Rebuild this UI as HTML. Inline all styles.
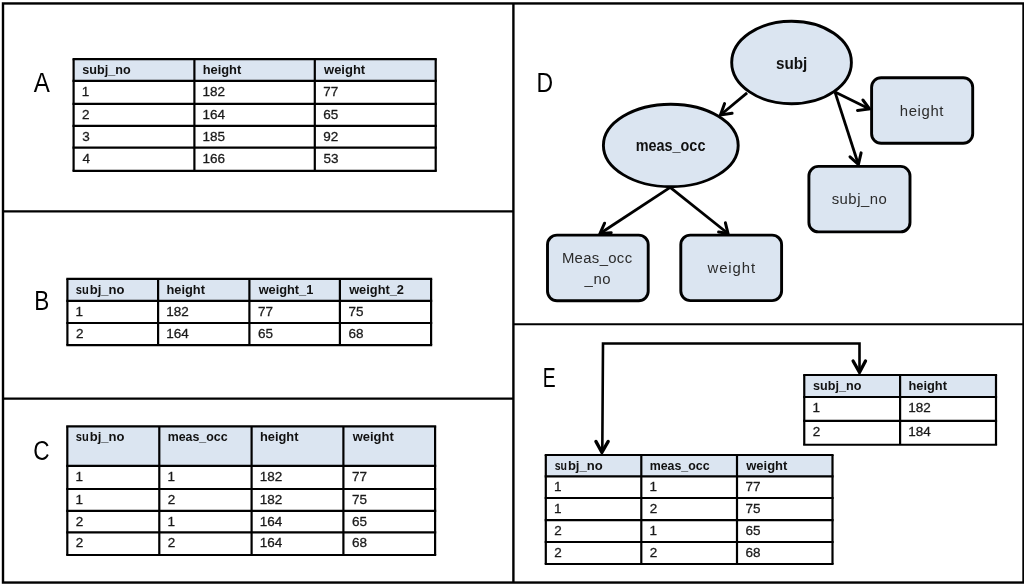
<!DOCTYPE html>
<html><head><meta charset="utf-8"><title>Data structures A-E</title>
<style>
html,body{margin:0;padding:0;background:#fff;}
body{width:1024px;height:588px;overflow:hidden;}
svg{display:block;will-change:transform;font-family:"Liberation Sans",Arial,sans-serif;}
</style></head>
<body>
<svg width="1024" height="588" viewBox="0 0 1024 588">
<rect width="1024" height="588" fill="#fff"/>
<rect x="3" y="3.45" width="1020.5" height="579.1" fill="none" stroke="#000" stroke-width="2.4"/>
<line x1="513.4" y1="3.45" x2="513.4" y2="582.5" stroke="#000" stroke-width="2.4"/>
<line x1="3" y1="211.3" x2="513.4" y2="211.3" stroke="#000" stroke-width="2.3"/>
<line x1="3" y1="398.7" x2="513.4" y2="398.7" stroke="#000" stroke-width="2.3"/>
<line x1="513.4" y1="324.3" x2="1023.5" y2="324.3" stroke="#000" stroke-width="2.0"/>
<text x="33.85" y="92.10" font-size="27" fill="#000" textLength="16.09" lengthAdjust="spacingAndGlyphs">A</text>
<text x="34.15" y="310.20" font-size="27" fill="#000" textLength="15.04" lengthAdjust="spacingAndGlyphs">B</text>
<text x="33.15" y="459.90" font-size="27" fill="#000" textLength="16.31" lengthAdjust="spacingAndGlyphs">C</text>
<text x="536.42" y="91.80" font-size="27" fill="#000" textLength="16.58" lengthAdjust="spacingAndGlyphs">D</text>
<text x="542.81" y="386.70" font-size="27" fill="#000" textLength="12.92" lengthAdjust="spacingAndGlyphs">E</text>
<rect x="73.6" y="59.2" width="362.1" height="21.599999999999994" fill="#dbe5f1"/>
<text x="82.36" y="73.80" font-size="13.7" font-weight="bold" fill="#111" textLength="48.34" lengthAdjust="spacingAndGlyphs">subj_no</text>
<text x="202.70" y="73.80" font-size="13.7" font-weight="bold" fill="#111" textLength="38.55" lengthAdjust="spacingAndGlyphs">height</text>
<text x="324.04" y="73.80" font-size="13.7" font-weight="bold" fill="#111" textLength="41.12" lengthAdjust="spacingAndGlyphs">weight</text>
<text x="81.77" y="95.80" font-size="13.5" fill="#1a1a1a" stroke="#1a1a1a" stroke-width="0.3">1</text>
<text x="202.57" y="95.80" font-size="13.5" fill="#1a1a1a" stroke="#1a1a1a" stroke-width="0.3">182</text>
<text x="323.31" y="95.80" font-size="13.5" fill="#1a1a1a" stroke="#1a1a1a" stroke-width="0.3">77</text>
<text x="82.12" y="118.90" font-size="13.5" fill="#1a1a1a" stroke="#1a1a1a" stroke-width="0.3">2</text>
<text x="202.57" y="118.90" font-size="13.5" fill="#1a1a1a" stroke="#1a1a1a" stroke-width="0.3">164</text>
<text x="323.31" y="118.90" font-size="13.5" fill="#1a1a1a" stroke="#1a1a1a" stroke-width="0.3">65</text>
<text x="82.29" y="140.80" font-size="13.5" fill="#1a1a1a" stroke="#1a1a1a" stroke-width="0.3">3</text>
<text x="202.57" y="140.80" font-size="13.5" fill="#1a1a1a" stroke="#1a1a1a" stroke-width="0.3">185</text>
<text x="323.37" y="140.80" font-size="13.5" fill="#1a1a1a" stroke="#1a1a1a" stroke-width="0.3">92</text>
<text x="82.49" y="162.60" font-size="13.5" fill="#1a1a1a" stroke="#1a1a1a" stroke-width="0.3">4</text>
<text x="202.57" y="162.60" font-size="13.5" fill="#1a1a1a" stroke="#1a1a1a" stroke-width="0.3">166</text>
<text x="323.46" y="162.60" font-size="13.5" fill="#1a1a1a" stroke="#1a1a1a" stroke-width="0.3">53</text>
<line x1="72.5" y1="59.2" x2="436.8" y2="59.2" stroke="#000" stroke-width="2.2"/>
<line x1="72.5" y1="80.8" x2="436.8" y2="80.8" stroke="#000" stroke-width="2.2"/>
<line x1="72.5" y1="103.9" x2="436.8" y2="103.9" stroke="#000" stroke-width="2.2"/>
<line x1="72.5" y1="125.8" x2="436.8" y2="125.8" stroke="#000" stroke-width="2.2"/>
<line x1="72.5" y1="147.6" x2="436.8" y2="147.6" stroke="#000" stroke-width="2.2"/>
<line x1="72.5" y1="170.8" x2="436.8" y2="170.8" stroke="#000" stroke-width="2.2"/>
<line x1="73.6" y1="59.2" x2="73.6" y2="170.8" stroke="#000" stroke-width="2.2"/>
<line x1="194.4" y1="59.2" x2="194.4" y2="170.8" stroke="#000" stroke-width="2.2"/>
<line x1="314.8" y1="59.2" x2="314.8" y2="170.8" stroke="#000" stroke-width="2.2"/>
<line x1="435.7" y1="59.2" x2="435.7" y2="170.8" stroke="#000" stroke-width="2.2"/>
<rect x="67.4" y="278.9" width="363.70000000000005" height="22.0" fill="#dbe5f1"/>
<text x="75.86" y="293.50" font-size="13.7" font-weight="bold" fill="#111" textLength="12.97" lengthAdjust="spacingAndGlyphs">su</text>
<text x="89.74" y="293.50" font-size="13.7" font-weight="bold" fill="#111" textLength="34.77" lengthAdjust="spacingAndGlyphs">bj_no</text>
<text x="166.40" y="293.50" font-size="13.7" font-weight="bold" fill="#111" textLength="38.55" lengthAdjust="spacingAndGlyphs">height</text>
<text x="258.64" y="293.50" font-size="13.7" font-weight="bold" fill="#111" textLength="54.72" lengthAdjust="spacingAndGlyphs">weight_1</text>
<text x="349.14" y="293.50" font-size="13.7" font-weight="bold" fill="#111" textLength="54.88" lengthAdjust="spacingAndGlyphs">weight_2</text>
<text x="75.57" y="315.90" font-size="13.5" fill="#1a1a1a" stroke="#1a1a1a" stroke-width="0.3">1</text>
<text x="166.27" y="315.90" font-size="13.5" fill="#1a1a1a" stroke="#1a1a1a" stroke-width="0.3">182</text>
<text x="257.91" y="315.90" font-size="13.5" fill="#1a1a1a" stroke="#1a1a1a" stroke-width="0.3">77</text>
<text x="348.41" y="315.90" font-size="13.5" fill="#1a1a1a" stroke="#1a1a1a" stroke-width="0.3">75</text>
<text x="75.92" y="338.00" font-size="13.5" fill="#1a1a1a" stroke="#1a1a1a" stroke-width="0.3">2</text>
<text x="166.27" y="338.00" font-size="13.5" fill="#1a1a1a" stroke="#1a1a1a" stroke-width="0.3">164</text>
<text x="257.91" y="338.00" font-size="13.5" fill="#1a1a1a" stroke="#1a1a1a" stroke-width="0.3">65</text>
<text x="348.41" y="338.00" font-size="13.5" fill="#1a1a1a" stroke="#1a1a1a" stroke-width="0.3">68</text>
<line x1="66.30000000000001" y1="278.9" x2="432.20000000000005" y2="278.9" stroke="#000" stroke-width="2.2"/>
<line x1="66.30000000000001" y1="300.9" x2="432.20000000000005" y2="300.9" stroke="#000" stroke-width="2.2"/>
<line x1="66.30000000000001" y1="323.0" x2="432.20000000000005" y2="323.0" stroke="#000" stroke-width="2.2"/>
<line x1="66.30000000000001" y1="345.1" x2="432.20000000000005" y2="345.1" stroke="#000" stroke-width="2.2"/>
<line x1="67.4" y1="278.9" x2="67.4" y2="345.1" stroke="#000" stroke-width="2.2"/>
<line x1="158.1" y1="278.9" x2="158.1" y2="345.1" stroke="#000" stroke-width="2.2"/>
<line x1="249.4" y1="278.9" x2="249.4" y2="345.1" stroke="#000" stroke-width="2.2"/>
<line x1="339.9" y1="278.9" x2="339.9" y2="345.1" stroke="#000" stroke-width="2.2"/>
<line x1="431.1" y1="278.9" x2="431.1" y2="345.1" stroke="#000" stroke-width="2.2"/>
<rect x="67.3" y="426.4" width="367.8" height="39.400000000000034" fill="#dbe5f1"/>
<text x="75.86" y="441.00" font-size="13.7" font-weight="bold" fill="#111" textLength="12.97" lengthAdjust="spacingAndGlyphs">su</text>
<text x="89.74" y="441.00" font-size="13.7" font-weight="bold" fill="#111" textLength="34.77" lengthAdjust="spacingAndGlyphs">bj_no</text>
<text x="167.68" y="441.00" font-size="13.7" font-weight="bold" fill="#111" textLength="59.93" lengthAdjust="spacingAndGlyphs">meas_occ</text>
<text x="259.90" y="441.00" font-size="13.7" font-weight="bold" fill="#111" textLength="38.55" lengthAdjust="spacingAndGlyphs">height</text>
<text x="352.64" y="441.00" font-size="13.7" font-weight="bold" fill="#111" textLength="41.12" lengthAdjust="spacingAndGlyphs">weight</text>
<text x="75.47" y="480.80" font-size="13.5" fill="#1a1a1a" stroke="#1a1a1a" stroke-width="0.3">1</text>
<text x="167.47" y="480.80" font-size="13.5" fill="#1a1a1a" stroke="#1a1a1a" stroke-width="0.3">1</text>
<text x="259.77" y="480.80" font-size="13.5" fill="#1a1a1a" stroke="#1a1a1a" stroke-width="0.3">182</text>
<text x="351.91" y="480.80" font-size="13.5" fill="#1a1a1a" stroke="#1a1a1a" stroke-width="0.3">77</text>
<text x="75.47" y="504.00" font-size="13.5" fill="#1a1a1a" stroke="#1a1a1a" stroke-width="0.3">1</text>
<text x="167.82" y="504.00" font-size="13.5" fill="#1a1a1a" stroke="#1a1a1a" stroke-width="0.3">2</text>
<text x="259.77" y="504.00" font-size="13.5" fill="#1a1a1a" stroke="#1a1a1a" stroke-width="0.3">182</text>
<text x="351.91" y="504.00" font-size="13.5" fill="#1a1a1a" stroke="#1a1a1a" stroke-width="0.3">75</text>
<text x="75.82" y="525.80" font-size="13.5" fill="#1a1a1a" stroke="#1a1a1a" stroke-width="0.3">2</text>
<text x="167.47" y="525.80" font-size="13.5" fill="#1a1a1a" stroke="#1a1a1a" stroke-width="0.3">1</text>
<text x="259.77" y="525.80" font-size="13.5" fill="#1a1a1a" stroke="#1a1a1a" stroke-width="0.3">164</text>
<text x="351.91" y="525.80" font-size="13.5" fill="#1a1a1a" stroke="#1a1a1a" stroke-width="0.3">65</text>
<text x="75.82" y="547.40" font-size="13.5" fill="#1a1a1a" stroke="#1a1a1a" stroke-width="0.3">2</text>
<text x="167.82" y="547.40" font-size="13.5" fill="#1a1a1a" stroke="#1a1a1a" stroke-width="0.3">2</text>
<text x="259.77" y="547.40" font-size="13.5" fill="#1a1a1a" stroke="#1a1a1a" stroke-width="0.3">164</text>
<text x="351.91" y="547.40" font-size="13.5" fill="#1a1a1a" stroke="#1a1a1a" stroke-width="0.3">68</text>
<line x1="66.2" y1="426.4" x2="436.20000000000005" y2="426.4" stroke="#000" stroke-width="2.2"/>
<line x1="66.2" y1="465.8" x2="436.20000000000005" y2="465.8" stroke="#000" stroke-width="2.2"/>
<line x1="66.2" y1="489.0" x2="436.20000000000005" y2="489.0" stroke="#000" stroke-width="2.2"/>
<line x1="66.2" y1="510.8" x2="436.20000000000005" y2="510.8" stroke="#000" stroke-width="2.2"/>
<line x1="66.2" y1="532.4" x2="436.20000000000005" y2="532.4" stroke="#000" stroke-width="2.2"/>
<line x1="66.2" y1="555.0" x2="436.20000000000005" y2="555.0" stroke="#000" stroke-width="2.2"/>
<line x1="67.3" y1="426.4" x2="67.3" y2="555.0" stroke="#000" stroke-width="2.2"/>
<line x1="159.3" y1="426.4" x2="159.3" y2="555.0" stroke="#000" stroke-width="2.2"/>
<line x1="251.6" y1="426.4" x2="251.6" y2="555.0" stroke="#000" stroke-width="2.2"/>
<line x1="343.4" y1="426.4" x2="343.4" y2="555.0" stroke="#000" stroke-width="2.2"/>
<line x1="435.1" y1="426.4" x2="435.1" y2="555.0" stroke="#000" stroke-width="2.2"/>
<rect x="804.25" y="375.0" width="191.75" height="22.0" fill="#dbe5f1"/>
<text x="813.01" y="389.60" font-size="13.7" font-weight="bold" fill="#111" textLength="48.34" lengthAdjust="spacingAndGlyphs">subj_no</text>
<text x="908.40" y="389.60" font-size="13.7" font-weight="bold" fill="#111" textLength="38.55" lengthAdjust="spacingAndGlyphs">height</text>
<text x="812.42" y="412.00" font-size="13.5" fill="#1a1a1a" stroke="#1a1a1a" stroke-width="0.3">1</text>
<text x="908.27" y="412.00" font-size="13.5" fill="#1a1a1a" stroke="#1a1a1a" stroke-width="0.3">182</text>
<text x="812.77" y="435.90" font-size="13.5" fill="#1a1a1a" stroke="#1a1a1a" stroke-width="0.3">2</text>
<text x="908.27" y="435.90" font-size="13.5" fill="#1a1a1a" stroke="#1a1a1a" stroke-width="0.3">184</text>
<line x1="803.15" y1="375.0" x2="997.1" y2="375.0" stroke="#000" stroke-width="2.2"/>
<line x1="803.15" y1="397.0" x2="997.1" y2="397.0" stroke="#000" stroke-width="2.2"/>
<line x1="803.15" y1="420.9" x2="997.1" y2="420.9" stroke="#000" stroke-width="2.2"/>
<line x1="803.15" y1="444.75" x2="997.1" y2="444.75" stroke="#000" stroke-width="2.2"/>
<line x1="804.25" y1="375.0" x2="804.25" y2="444.75" stroke="#000" stroke-width="2.2"/>
<line x1="900.1" y1="375.0" x2="900.1" y2="444.75" stroke="#000" stroke-width="2.2"/>
<line x1="996.0" y1="375.0" x2="996.0" y2="444.75" stroke="#000" stroke-width="2.2"/>
<rect x="545.8" y="455.0" width="286.70000000000005" height="21.399999999999977" fill="#dbe5f1"/>
<text x="554.63" y="469.60" font-size="13.7" font-weight="bold" fill="#111" textLength="12.32" lengthAdjust="spacingAndGlyphs">su</text>
<text x="567.89" y="469.60" font-size="13.7" font-weight="bold" fill="#111" textLength="34.87" lengthAdjust="spacingAndGlyphs">bj_no</text>
<text x="649.68" y="469.60" font-size="13.7" font-weight="bold" fill="#111" textLength="59.93" lengthAdjust="spacingAndGlyphs">meas_occ</text>
<text x="746.24" y="469.60" font-size="13.7" font-weight="bold" fill="#111" textLength="41.12" lengthAdjust="spacingAndGlyphs">weight</text>
<text x="553.97" y="491.40" font-size="13.5" fill="#1a1a1a" stroke="#1a1a1a" stroke-width="0.3">1</text>
<text x="649.47" y="491.40" font-size="13.5" fill="#1a1a1a" stroke="#1a1a1a" stroke-width="0.3">1</text>
<text x="745.51" y="491.40" font-size="13.5" fill="#1a1a1a" stroke="#1a1a1a" stroke-width="0.3">77</text>
<text x="553.97" y="513.00" font-size="13.5" fill="#1a1a1a" stroke="#1a1a1a" stroke-width="0.3">1</text>
<text x="649.82" y="513.00" font-size="13.5" fill="#1a1a1a" stroke="#1a1a1a" stroke-width="0.3">2</text>
<text x="745.51" y="513.00" font-size="13.5" fill="#1a1a1a" stroke="#1a1a1a" stroke-width="0.3">75</text>
<text x="554.32" y="535.20" font-size="13.5" fill="#1a1a1a" stroke="#1a1a1a" stroke-width="0.3">2</text>
<text x="649.47" y="535.20" font-size="13.5" fill="#1a1a1a" stroke="#1a1a1a" stroke-width="0.3">1</text>
<text x="745.51" y="535.20" font-size="13.5" fill="#1a1a1a" stroke="#1a1a1a" stroke-width="0.3">65</text>
<text x="554.32" y="557.00" font-size="13.5" fill="#1a1a1a" stroke="#1a1a1a" stroke-width="0.3">2</text>
<text x="649.82" y="557.00" font-size="13.5" fill="#1a1a1a" stroke="#1a1a1a" stroke-width="0.3">2</text>
<text x="745.51" y="557.00" font-size="13.5" fill="#1a1a1a" stroke="#1a1a1a" stroke-width="0.3">68</text>
<line x1="544.6999999999999" y1="455.0" x2="833.6" y2="455.0" stroke="#000" stroke-width="2.2"/>
<line x1="544.6999999999999" y1="476.4" x2="833.6" y2="476.4" stroke="#000" stroke-width="2.2"/>
<line x1="544.6999999999999" y1="498.0" x2="833.6" y2="498.0" stroke="#000" stroke-width="2.2"/>
<line x1="544.6999999999999" y1="520.2" x2="833.6" y2="520.2" stroke="#000" stroke-width="2.2"/>
<line x1="544.6999999999999" y1="542.0" x2="833.6" y2="542.0" stroke="#000" stroke-width="2.2"/>
<line x1="544.6999999999999" y1="564.0" x2="833.6" y2="564.0" stroke="#000" stroke-width="2.2"/>
<line x1="545.8" y1="455.0" x2="545.8" y2="564.0" stroke="#000" stroke-width="2.2"/>
<line x1="641.3" y1="455.0" x2="641.3" y2="564.0" stroke="#000" stroke-width="2.2"/>
<line x1="737.0" y1="455.0" x2="737.0" y2="564.0" stroke="#000" stroke-width="2.2"/>
<line x1="832.5" y1="455.0" x2="832.5" y2="564.0" stroke="#000" stroke-width="2.2"/>
<polyline points="602.3,452 603,343.5 859.5,343.5 859.5,372" fill="none" stroke="#000" stroke-width="2.6" stroke-linejoin="miter"/>
<polyline points="595.9,441.4 601.9,452.3 608.2,441.4" fill="none" stroke="#000" stroke-width="3.3" stroke-linecap="round" stroke-linejoin="miter"/>
<polyline points="853.1,361 859.5,372.3 865.5,361" fill="none" stroke="#000" stroke-width="3.3" stroke-linecap="round" stroke-linejoin="miter"/>
<ellipse cx="791.55" cy="62.45" rx="59.85" ry="41.25" fill="#dbe5f1" stroke="#000" stroke-width="2.9"/>
<ellipse cx="670.8" cy="145.45" rx="67.4" ry="41.25" fill="#dbe5f1" stroke="#000" stroke-width="2.9"/>
<rect x="871.60" y="77.80" width="101.10" height="65.40" rx="9.5" ry="9.5" fill="#dbe5f1" stroke="#000" stroke-width="2.9"/>
<rect x="808.90" y="166.40" width="101.10" height="65.50" rx="9.5" ry="9.5" fill="#dbe5f1" stroke="#000" stroke-width="2.9"/>
<rect x="547.50" y="235.10" width="100.70" height="65.70" rx="9.5" ry="9.5" fill="#dbe5f1" stroke="#000" stroke-width="2.9"/>
<rect x="680.80" y="235.10" width="100.80" height="65.50" rx="9.5" ry="9.5" fill="#dbe5f1" stroke="#000" stroke-width="2.9"/>
<line x1="747.1" y1="92.9" x2="720.5" y2="115" stroke="#000" stroke-width="2.8"/>
<polyline points="724.6,103.6 720.5,115 732.1,113.2" fill="none" stroke="#000" stroke-width="3.0" stroke-linecap="round" stroke-linejoin="miter"/>
<line x1="835" y1="92.1" x2="869.5" y2="108.9" stroke="#000" stroke-width="2.8"/>
<polyline points="862.9,100 869.5,108.9 857.5,110.4" fill="none" stroke="#000" stroke-width="3.0" stroke-linecap="round" stroke-linejoin="miter"/>
<line x1="835" y1="92.1" x2="858.4" y2="164.5" stroke="#000" stroke-width="2.8"/>
<polyline points="850,156.8 858.4,164.5 861.1,152.9" fill="none" stroke="#000" stroke-width="3.0" stroke-linecap="round" stroke-linejoin="miter"/>
<line x1="670.2" y1="187.3" x2="600" y2="233.5" stroke="#000" stroke-width="2.8"/>
<polyline points="604.6,223.2 600,233.5 611.2,232.7" fill="none" stroke="#000" stroke-width="3.0" stroke-linecap="round" stroke-linejoin="miter"/>
<line x1="670.2" y1="187.3" x2="728" y2="233.5" stroke="#000" stroke-width="2.8"/>
<polyline points="725.4,222.8 728,233.5 718.6,232" fill="none" stroke="#000" stroke-width="3.0" stroke-linecap="round" stroke-linejoin="miter"/>
<text x="776.06" y="68.75" font-size="16.7" font-weight="bold" fill="#111" textLength="31.31" lengthAdjust="spacingAndGlyphs">subj</text>
<text x="635.65" y="150.80" font-size="16.7" font-weight="bold" fill="#111" textLength="69.77" lengthAdjust="spacingAndGlyphs">meas_occ</text>
<text x="899.77" y="115.60" font-size="14.9" fill="#2b2b2b" textLength="43.74" lengthAdjust="spacing">height</text>
<text x="831.69" y="204.30" font-size="14.9" fill="#2b2b2b" textLength="55.04" lengthAdjust="spacing">subj_no</text>
<text x="561.88" y="263.40" font-size="14.9" fill="#2b2b2b" textLength="70.22" lengthAdjust="spacing">Meas_occ</text>
<text x="584.43" y="283.70" font-size="14.9" fill="#2b2b2b" textLength="26.20" lengthAdjust="spacing">_no</text>
<text x="707.52" y="273.20" font-size="14.9" fill="#2b2b2b" textLength="47.59" lengthAdjust="spacing">weight</text>
</svg>
</body></html>
